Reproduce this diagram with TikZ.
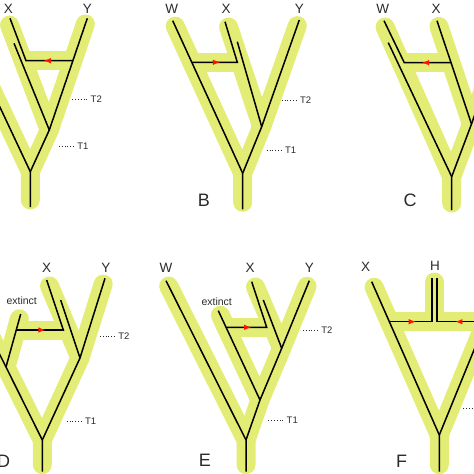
\documentclass[tikz,border=0pt]{standalone}
\usepackage{fontspec}
\setmainfont{Liberation Sans}
\usetikzlibrary{arrows.meta,calc,decorations.markings}
\definecolor{tubeyellow}{HTML}{E3EC74}
\definecolor{inkgray}{HTML}{2A2A2A}

\begin{document}
\begin{tikzpicture}[x=1pt,y=-1pt,
    tube/.style={draw=tubeyellow,line width=19pt,line cap=round,line join=round},
    gene/.style={draw=black,line width=1.5pt},
    flow/.style={postaction={decorate},decoration={markings,
      mark=at position 0.63 with {\arrow[red!85!orange]{Latex[length=7.5pt,width=5.5pt]}}}},
    taxon/.style={font=\fontsize{13.5}{14}\selectfont,text=inkgray,inner sep=0pt},
    panel/.style={font=\fontsize{18}{20}\selectfont,text=inkgray,inner sep=0pt},
    tlabel/.style={font=\fontsize{9.5}{10}\selectfont,text=inkgray,inner sep=0pt},
    tick/.style={draw=inkgray,dotted,line width=0.8pt}]
  \useasboundingbox (0,0) rectangle (474,474);
  \clip (0,0) rectangle (474,474);

  % Panel A
  \coordinate (A-bot) at (30.3,207);
  \coordinate (A-root) at (30.3,171.7);
  \coordinate (A-w) at (-41,20);
  \coordinate (A-j) at (49.3,130);
  \coordinate (A-y) at (87.3,18.3);
  \coordinate (A-xi) at (10,18.3);
  \coordinate (A-xc) at (26,60.7);
  \coordinate (A-yb) at (72.9,60.7);
  \coordinate (A-xn) at (14,43.3);
  \coordinate (A-tx) at (9.5,25);
  \coordinate (A-xb) at (23.5,60.7);
  \draw[tube] ($(A-bot)!7pt!(A-root)$) -- (A-root) -- (A-j) -- ($(A-y)!6pt!(A-j)$);
  \draw[tube] (A-root) -- (A-w);
  \draw[tube] (A-j) -- (A-tx);
  \draw[tube] (A-xb) -- (A-yb);
  \draw[gene] (A-bot) -- (A-root) -- (A-j) -- (A-y);
  \draw[gene] (A-root) -- (A-w);
  \draw[gene] (A-xn) -- (A-j);
  \draw[gene] (A-xi) -- (A-xc) -- (A-yb);
  \draw[gene,flow] (A-yb) -- (A-xc);
  \node[taxon] (A-X) at (8.3,8.5) {X};
  \node[taxon] (A-Y) at (87.3,8.5) {Y};

  % Panel B
  \coordinate (B-bot) at (242.7,209.3);
  \coordinate (B-root) at (242.7,173.3);
  \coordinate (B-w) at (172.7,20.7);
  \coordinate (B-j) at (261.7,126.7);
  \coordinate (B-y) at (299.3,20);
  \coordinate (B-xi) at (225,21.7);
  \coordinate (B-xc) at (237.3,62.3);
  \coordinate (B-wb) at (191.8,62.3);
  \coordinate (B-xn) at (237.3,41.7);
  \coordinate (B-tx) at (228.6,27);
  \coordinate (B-xb) at (240.3,62.3);
  \draw[tube] ($(B-bot)!7pt!(B-root)$) -- (B-root) -- (B-j) -- ($(B-y)!6pt!(B-j)$);
  \draw[tube] (B-root) -- ($(B-w)!6pt!(B-root)$);
  \draw[tube] (B-j) -- (B-tx);
  \draw[tube] (B-wb) -- (B-xb);
  \draw[gene] (B-bot) -- (B-root) -- (B-j) -- (B-y);
  \draw[gene] (B-root) -- (B-w);
  \draw[gene] (B-xn) -- (B-j);
  \draw[gene] (B-xi) -- (B-xc) -- (B-wb);
  \draw[gene,flow] (B-wb) -- (B-xc);
  \node[taxon] (B-W) at (171.7,8.5) {W};
  \node[taxon] (B-X) at (226,8.5) {X};
  \node[taxon] (B-Y) at (299.3,8.5) {Y};
  \node[panel] (B-lab) at (204,200) {B};

  % Panel C
  \coordinate (C-bot) at (451.7,210);
  \coordinate (C-root) at (451.7,176.7);
  \coordinate (C-j) at (471.5,124);
  \coordinate (C-x) at (437,20.7);
  \coordinate (C-y) at (508,20);
  \coordinate (C-wi) at (384,20.7);
  \coordinate (C-wc) at (404.3,62.7);
  \coordinate (C-xb) at (451,62.7);
  \coordinate (C-wn) at (388.3,42.7);
  \coordinate (C-tw) at (385.1,27);
  \coordinate (C-wb) at (401,62.7);
  \draw[tube] ($(C-bot)!7pt!(C-root)$) -- (C-root) -- (C-j) -- (C-y);
  \draw[tube] (C-j) -- ($(C-x)!6pt!(C-j)$);
  \draw[tube] (C-root) -- (C-tw);
  \draw[tube] (C-wb) -- (C-xb);
  \draw[gene] (C-bot) -- (C-root) -- (C-j) -- (C-y);
  \draw[gene] (C-j) -- (C-x);
  \draw[gene] (C-wn) -- (C-root);
  \draw[gene] (C-wi) -- (C-wc) -- (C-xb);
  \draw[gene,flow] (C-xb) -- (C-wc);
  \node[taxon] (C-W) at (382.7,8.5) {W};
  \node[taxon] (C-X) at (436,8.5) {X};
  \node[panel] (C-lab) at (410,200) {C};

  % Panel D
  \coordinate (D-bot) at (42.3,471.7);
  \coordinate (D-root) at (42.3,440);
  \coordinate (D-s) at (6,367);
  \coordinate (D-w) at (-39,277);
  \coordinate (D-e) at (20.7,314);
  \coordinate (D-j) at (80,358);
  \coordinate (D-y) at (105,278.3);
  \coordinate (D-xi) at (46.7,280);
  \coordinate (D-xc) at (63.3,330);
  \coordinate (D-eb) at (16.5,330);
  \coordinate (D-xn) at (60.7,300);
  \coordinate (D-tx) at (49.5,286);
  \coordinate (D-xb) at (68,330);
  \draw[tube] ($(D-bot)!7pt!(D-root)$) -- (D-root) -- (D-j) -- ($(D-y)!6pt!(D-j)$);
  \draw[tube] (D-root) -- (D-s) -- (D-w);
  \draw[tube] (D-s) -- ($(D-e)!5pt!(D-s)$);
  \draw[tube] (D-j) -- (D-tx);
  \draw[tube] (D-eb) -- (D-xb);
  \draw[gene] (D-bot) -- (D-root) -- (D-j) -- (D-y);
  \draw[gene] (D-root) -- (D-s) -- (D-w);
  \draw[gene] (D-s) -- (D-e);
  \draw[gene] (D-xn) -- (D-j);
  \draw[gene] (D-xi) -- (D-xc) -- (D-eb);
  \draw[gene,flow] (D-eb) -- (D-xc);
  \node[taxon] (D-X) at (46.7,268.3) {X};
  \node[taxon] (D-Y) at (106,268.3) {Y};
  \node[tlabel,font=\fontsize{10.5}{12}\selectfont] (D-ext) at (21.7,301) {extinct};
  \node[panel] (D-lab) at (3.5,461.7) {D};

  % Panel E
  \coordinate (E-bot) at (246,471.7);
  \coordinate (E-root) at (246,440);
  \coordinate (E-w) at (166,280.7);
  \coordinate (E-j2) at (260,400);
  \coordinate (E-j3) at (281.7,348.3);
  \coordinate (E-y) at (309.3,280.7);
  \coordinate (E-e) at (218.3,310.7);
  \coordinate (E-xi) at (251.7,281.7);
  \coordinate (E-xc) at (266.7,327.3);
  \coordinate (E-eb) at (226,327.3);
  \coordinate (E-xn) at (263.3,300);
  \coordinate (E-tx) at (255.5,287);
  \coordinate (E-xb) at (272.7,327.3);
  \draw[tube] ($(E-bot)!7pt!(E-root)$) -- (E-root) -- (E-j2) -- (E-j3) -- ($(E-y)!6pt!(E-j3)$);
  \draw[tube] (E-root) -- ($(E-w)!6pt!(E-root)$);
  \draw[tube] (E-j2) -- ($(E-e)!5pt!(E-j2)$);
  \draw[tube] (E-j3) -- (E-tx);
  \draw[tube] (E-eb) -- (E-xb);
  \draw[gene] (E-bot) -- (E-root) -- (E-j2) -- (E-j3) -- (E-y);
  \draw[gene] (E-root) -- (E-w);
  \draw[gene] (E-j2) -- (E-e);
  \draw[gene] (E-xn) -- (E-j3);
  \draw[gene] (E-xi) -- (E-xc) -- (E-eb);
  \draw[gene,flow] (E-eb) -- (E-xc);
  \node[taxon] (E-W) at (166,268.3) {W};
  \node[taxon] (E-X) at (250,268.3) {X};
  \node[taxon] (E-Y) at (309.3,268.3) {Y};
  \node[tlabel,font=\fontsize{10.5}{12}\selectfont] (E-ext) at (216.7,301.7) {extinct};
  \node[panel] (E-lab) at (205,460) {E};

  % Panel F
  \coordinate (F-bot) at (439.3,471.7);
  \coordinate (F-root) at (439.3,435);
  \coordinate (F-x) at (371.7,281.7);
  \coordinate (F-y) at (510.7,260);
  \coordinate (F-xb) at (389.3,321.7);
  \coordinate (F-yb) at (485.5,321.7);
  \coordinate (F-hl) at (432,278.3);
  \coordinate (F-hlc) at (432,321.7);
  \coordinate (F-hr) at (437,278.3);
  \coordinate (F-hrc) at (437,321.7);
  \coordinate (F-hb) at (434.5,321.7);
  \coordinate (F-ht) at (434.5,282);
  \draw[tube] ($(F-bot)!7pt!(F-root)$) -- (F-root) -- ($(F-x)!6pt!(F-root)$);
  \draw[tube] (F-root) -- (F-y);
  \draw[tube] (F-xb) -- (F-yb);
  \draw[tube] (F-hb) -- (F-ht);
  \draw[gene] (F-bot) -- (F-root) -- (F-x);
  \draw[gene] (F-root) -- (F-y);
  \draw[gene] (F-hl) -- (F-hlc) -- (F-xb);
  \draw[gene] (F-hr) -- (F-hrc) -- (F-yb);
  \draw[gene,flow] (F-xb) -- (F-hlc);
  \draw[gene,flow] (F-yb) -- (F-hrc);
  \node[taxon] (F-X) at (365.7,266.7) {X};
  \node[taxon] (F-H) at (435,265.5) {H};
  \node[panel] (F-lab) at (401.7,461.7) {F};

  % Time marks
  \foreach \p/\lab/\x/\y in {A/T2/87.3/99.3, A/T1/74/146, B/T2/296.7/100, B/T1/281.7/150,
      D/T2/115/336, D/T1/81.7/421.7, E/T2/318/330, E/T1/283.3/420} {
    \draw[tick] (\x-15,\y) -- (\x,\y) node[tlabel,right,xshift=3pt] (\p-\lab) {\lab};
  }
  \draw[tick] (463.3,408.3) -- (480,408.3);
\end{tikzpicture}
\end{document}
